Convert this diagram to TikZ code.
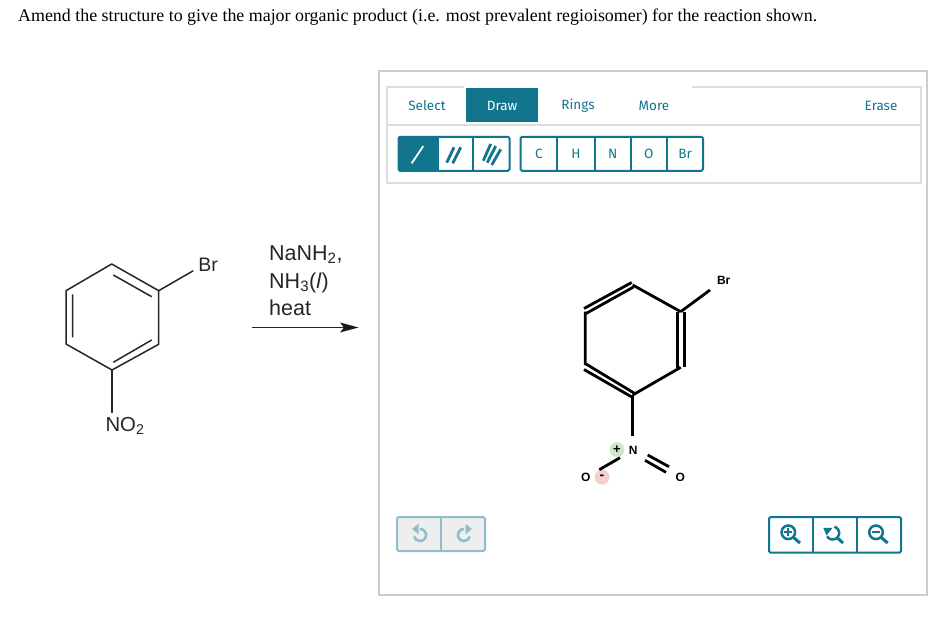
\documentclass[tikz,border=0pt]{standalone}
\usepackage{fontspec}
\setmainfont{Liberation Serif}
\setsansfont{Liberation Sans}
\newfontfamily\uifont{Fira Sans}
\definecolor{teal}{HTML}{11758E}
\definecolor{panel}{HTML}{DCDCDC}
\definecolor{frame}{HTML}{CCCCCC}
\definecolor{pale}{HTML}{90BDC9}
\definecolor{soft}{HTML}{EEEEEE}
\definecolor{plusc}{HTML}{CFE8CB}
\definecolor{minusc}{HTML}{F8CFCF}
\tikzset{
  thin bond/.style={line width=1.5pt,black!85},
  bold bond/.style={line width=2.8pt,black},
  ui text/.style={font=\uifont\fontsize{13.5}{15}\selectfont,text=teal,inner sep=0pt},
  chem text/.style={font=\sffamily\fontsize{20.3}{21}\selectfont,text=black!85,inner sep=0pt},
  reagent/.style={font=\sffamily\fontsize{21.5}{22}\selectfont,text=black!85,inner sep=0pt,anchor=base west},
  atom bold/.style={font=\sffamily\bfseries\fontsize{12}{13}\selectfont,text=black,inner sep=0pt},
  btn/.style={draw=teal,line width=2pt,rounded corners=1.5pt},
  divider/.style={teal,line width=2pt},
  mag/.style={draw=teal,line width=2.5pt},
}
\begin{document}
\begin{tikzpicture}[x=1pt,y=-1pt]
\useasboundingbox (0,0) rectangle (949,623);
\fill[white] (0,0) rectangle (949,623);
% question
\node[anchor=base west,inner sep=0pt,font=\fontsize{17.9}{20}\selectfont] (question) at (18,22) {Amend the structure to give the major organic product (i.e. most prevalent regioisomer) for the reaction shown.};
% reactant
\coordinate (a1) at (111.7,264);
\coordinate (a2) at (158.7,290.7);
\coordinate (a3) at (158.7,344.3);
\coordinate (a4) at (112,370);
\coordinate (a5) at (66,344);
\coordinate (a6) at (66,290.7);
\coordinate (a1i) at (113.3,275);
\coordinate (a2i) at (151.7,296.7);
\coordinate (a3i) at (151.7,340);
\coordinate (a4i) at (113.3,362.3);
\coordinate (a5i) at (72.7,337.3);
\coordinate (a6i) at (72.7,294.3);
\draw[thin bond,line join=round] (a1)--(a2)--(a3)--(a4)--(a5)--(a6)--cycle;
\draw[thin bond] (a1i)--(a2i) (a3i)--(a4i) (a5i)--(a6i);
\node[font=\sffamily\fontsize{19.5}{20}\selectfont,text=black!85,inner sep=0pt] (rbr) at (208,265) {Br};
\node[chem text] (rno) at (125,426) {NO\textsubscript{2}};
\coordinate (rbrend) at (193.3,270.7);
\coordinate (rnoend) at (112,412.7);
\draw[thin bond] (a2)--(rbrend);
\draw[thin bond] (a4)--(rnoend);
% reagents
\node[reagent] (r1) at (269,260) {NaNH\textsubscript{2},};
\node[reagent] (r2) at (269,288) {NH\textsubscript{3}(\textit{l})};
\node[reagent] (r3) at (269,315) {heat};
\coordinate (arrA) at (251.7,327.5);
\coordinate (arrB) at (358.5,327.5);
\coordinate (arrT) at (340,322.5);
\coordinate (arrU) at (340,332.5);
\coordinate (arrM) at (344,327.5);
\draw[line width=1.7pt,black!85] (arrA)--(arrM);
\fill[black!90] (arrB)--(arrT)--(arrM)--(arrU)--cycle;
% widget frame
\node[draw=frame,line width=2pt,outer sep=0pt,minimum width=548pt,minimum height=524pt,inner sep=0pt,anchor=north west] (frm) at (378.6,71) {};
% toolbar panel
\draw[panel,line width=2pt] (464,86.7)--(387,86.7)--(387,182.7)--(921,182.7)--(921,86.7)--(692,86.7);
\draw[panel,line width=2pt] (387,125)--(921,125);
\fill[teal] (466,88) rectangle (538,122);
\node[ui text] (t1) at (427,105.5) {Select};
\node[ui text,text=white] (t2) at (502,105.5) {Draw};
\node[ui text] (t3) at (578,105.5) {Rings};
\node[ui text] (t4) at (654,105.5) {More};
\node[ui text] (t5) at (881,105.5) {Erase};
% bond buttons
\fill[teal,rounded corners=1.5pt] (398,136) rectangle (438,171.3);
\draw[btn] (398.5,136.8) rectangle (509.5,170.8);
\draw[divider] (438,136.8)--(438,170.8) (473,136.8)--(473,170.8);
\draw[white,line width=1.8pt] (411.7,163.3)--(423.3,146);
\draw[teal,line width=2.8pt] (446.7,162.7)--(454,147.3) (452.7,163.3)--(460.7,147.3);
\draw[teal,line width=2.8pt] (483.3,160.7)--(490.7,144) (487.3,162.7)--(495.7,146) (491.7,165)--(500.7,149.3);
% atom buttons
\draw[btn] (520.5,136.8) rectangle (703,170.8);
\draw[divider] (557,136.8)--(557,170.8) (595,136.8)--(595,170.8) (631,136.8)--(631,170.8) (667,136.8)--(667,170.8);
\node[ui text] (bc) at (539,153.5) {C};
\node[ui text] (bh) at (576,153.5) {H};
\node[ui text] (bn) at (612.7,153.5) {N};
\node[ui text] (bo) at (648.7,153.5) {O};
\node[ui text] (bbr) at (685,153.5) {Br};
% product
\coordinate (p1) at (632.7,285);
\coordinate (p2) at (680.7,311.7);
\coordinate (p3) at (680.7,367.3);
\coordinate (p4) at (632.7,395);
\coordinate (p5) at (585.3,365);
\coordinate (p6) at (585.3,311.7);
\draw[bold bond,line join=round] (p6)--(p5) (p2)--(p1);
\draw[bold bond] (p3)--(p4);
\draw[bold bond] (586,313.5)--(633.5,287);
\draw[bold bond] (584,308.5)--(631.7,282.5);
\draw[bold bond] (677.5,311.7)--(677.5,367.5);
\draw[bold bond] (684.3,311.7)--(684.3,367);
\draw[bold bond] (586,364)--(634,393);
\draw[bold bond] (584,369.5)--(632.7,397.5);
\node[atom bold] (pbr) at (723.7,280) {Br};
\coordinate (pbrend) at (710,290);
\draw[bold bond] (p2)--(pbrend);
\node[circle,fill=plusc,minimum size=15pt,inner sep=0pt,font=\sffamily\bfseries\fontsize{13}{13}\selectfont] (plus) at (617,449.7) {+};
\node[circle,fill=minusc,minimum size=15pt,inner sep=0pt,font=\sffamily\bfseries\fontsize{14}{14}\selectfont] (minus) at (602,477) {-};
\node[atom bold] (pn) at (633.3,450) {N};
\coordinate (pnend) at (632.7,436);
\draw[bold bond] (p4)--(pnend);
\node[atom bold] (om) at (585.7,477) {O};
\node[atom bold] (od) at (680.3,477) {O};
\draw[bold bond] (620,457.7)--(599.3,469.7);
\draw[bold bond] (647.7,455)--(669,466.7);
\draw[bold bond] (645,460.3)--(666,472.3);
% undo / redo
\draw[draw=pale,fill=soft,line width=2pt,rounded corners=1.5pt] (397,517) rectangle (485,551);
\draw[pale,line width=2pt] (440.7,517)--(440.7,551);
\draw[pale,line width=2.6pt] (420,535) ++(-90:6) arc[start angle=-90,end angle=165,radius=6];
\fill[pale] (418.5,523.8)--(418.5,534.4)--(412.2,529)--cycle;
\draw[pale,line width=2.6pt] (464,535) ++(-90:6) arc[start angle=-90,end angle=-345,radius=6];
\fill[pale] (465.5,523.8)--(465.5,534.4)--(471.8,529)--cycle;
% zoom buttons
\draw[btn] (769,517) rectangle (901,552.7);
\draw[divider] (812.7,517)--(812.7,552.7) (856.7,517)--(856.7,552.7);
\draw[mag] (788.3,532.3) circle (6.8);
\draw[teal,line width=3pt] (793.5,537.5)--(800,543);
\draw[teal,line width=2.2pt] (784.3,532.3)--(792.3,532.3) (788.3,528.3)--(788.3,536.3);
\draw[mag] (832.7,533) ++(-75:6.5) arc[start angle=-75,end angle=150,radius=6.5];
\fill[teal] (823.3,527.8)--(832.5,527.8)--(826.5,535.5)--cycle;
\draw[teal,line width=3pt] (837.5,538)--(843,543);
\draw[mag] (876,532.3) circle (6.8);
\draw[teal,line width=3pt] (881.2,537.5)--(887.7,543);
\draw[teal,line width=2.2pt] (872,532.3)--(880,532.3);
\end{tikzpicture}
\end{document}
